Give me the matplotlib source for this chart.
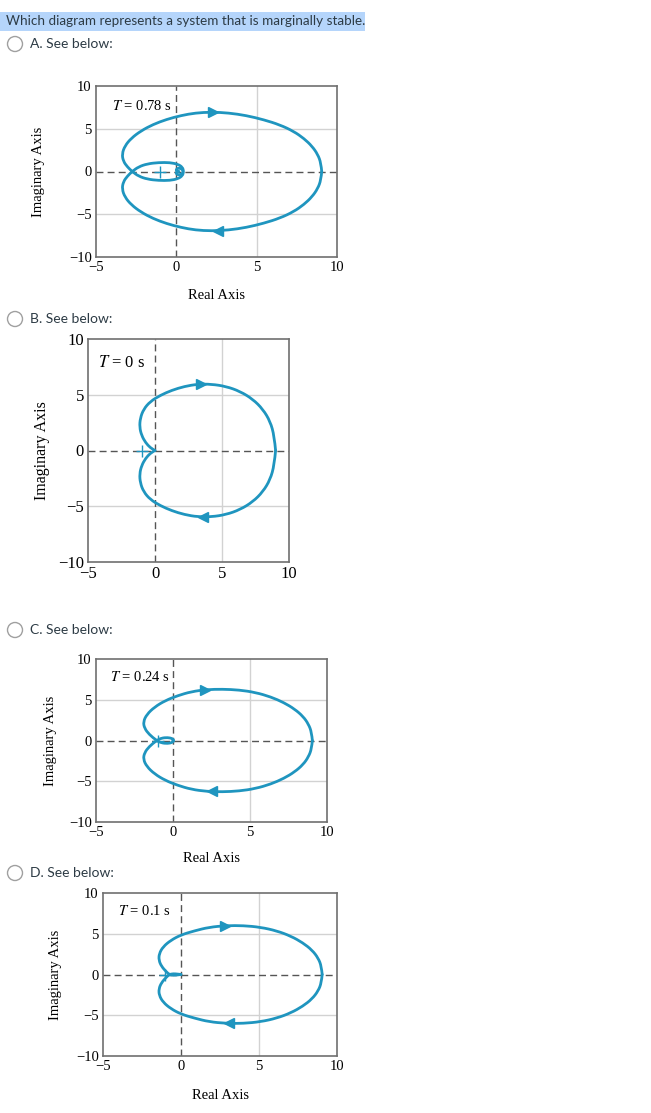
import numpy as np
import matplotlib.pyplot as plt
from matplotlib.patches import Rectangle, Ellipse, PathPatch
from matplotlib.path import Path

plt.rcParams['font.family'] = ['Liberation Serif', 'DejaVu Serif']
plt.rcParams['mathtext.fontset'] = 'stix'

question = "Which diagram represents a system that is marginally stable."
options = ["A. See below:", "B. See below:", "C. See below:", "D. See below:"]
delays = ["0.78", "0", "0.24", "0.1"]

# lower branch (omega > 0) of each Nyquist curve; upper branch is its mirror
a_re = [9.05, 9.0, 8.8, 8.45, 7.95, 7.3, 6.45, 5.45, 4.35, 3.25, 2.2, 1.2, 0.3, -0.6, -1.45, -2.2,
        -2.8, -3.2, -3.38, -3.3, -3.05, -2.75, -2.35, -1.8, -1.1, -0.4, 0.1, 0.38, 0.45, 0.35, 0.15, 0.0, 0.0, 0.15]
a_im = [0.0, -1.0, -2.0, -2.95, -3.85, -4.7, -5.45, -6.05, -6.55, -6.85, -6.95, -6.85, -6.55, -6.1, -5.5, -4.75,
        -3.9, -3.0, -2.05, -1.2, -0.55, 0.0, 0.55, 0.9, 1.05, 1.05, 0.85, 0.5, 0.05, -0.3, -0.4, -0.3, -0.05, 0.0]
b_re = [9.0, 8.9, 8.6, 8.05, 7.3, 6.35, 5.3, 4.2, 3.2, 2.2, 1.25, 0.4, -0.35, -0.85, -1.1, -1.15, -1.0, -0.7, -0.35, 0.0]
b_im = [0.0, -1.3, -2.6, -3.7, -4.6, -5.3, -5.75, -5.95, -5.95, -5.75, -5.4, -4.95, -4.4, -3.7, -2.9, -2.1, -1.35, -0.7, -0.25, 0.0]
c_re = [9.05, 9.0, 8.8, 8.45, 7.9, 7.2, 6.35, 5.35, 4.3, 3.2, 2.2, 1.2, 0.3, -0.5, -1.2, -1.7, -1.93, -1.85, -1.55,
        -1.07, -0.75, -0.35, -0.05, 0.05, 0.0]
c_im = [0.0, -1.0, -2.0, -2.95, -3.85, -4.65, -5.35, -5.9, -6.2, -6.3, -6.25, -6.0, -5.5, -4.9, -4.1, -3.2, -2.3, -1.5, -0.75,
        0.0, 0.3, 0.37, 0.25, 0.05, 0.0]
d_re = [9.05, 9.0, 8.8, 8.4, 7.8, 7.05, 6.15, 5.1, 4.0, 2.9, 1.8, 0.85, 0.0, -0.65, -1.15, -1.4, -1.42, -1.25, -0.95,
        -0.75, -0.5, -0.2, 0.0]
d_im = [0.0, -1.0, -2.0, -3.0, -3.9, -4.7, -5.35, -5.8, -6.0, -6.0, -5.8, -5.35, -4.86, -4.2, -3.4, -2.55, -1.75, -1.0, -0.35,
        0.0, 0.1, 0.05, 0.0]
curves = [(a_re, a_im), (b_re, b_im), (c_re, c_im), (d_re, d_im)]

# arrow heads: (x top, y top), (x bottom, y bottom)
arrows = [((2.3, 6.95), (2.6, -6.95)), ((3.45, 5.95), (3.6, -5.95)),
          ((2.06, 6.25), (2.5, -6.25)), ((2.8, 6.0), (3.1, -6.0))]

# layout in pixels (left, top, right, bottom)
boxes = [(96, 86, 337, 257), (88, 339, 289, 562), (96, 659, 327, 822), (103, 893, 337, 1056)]
option_y = [44, 319, 630, 873]
ylab_x = [-0.21, -0.19, -0.17, -0.175]
xlab_y = [-0.19, None, -0.184, -0.2]
label_pos = [(-4.0, 7.7), (-4.25, 7.85), (-4.1, 7.85), (-4.06, 7.8)]


def smooth_path(xs, ys):
    # quadratic bezier through the midpoints, the read points act as control points
    pts = np.column_stack([xs, ys])
    verts = [pts[0]]
    codes = [Path.MOVETO]
    for i in range(1, len(pts) - 1):
        verts += [pts[i], (pts[i] + pts[i + 1]) / 2]
        codes += [Path.CURVE3, Path.CURVE3]
    verts.append(pts[-1])
    codes.append(Path.LINETO)
    return Path(verts, codes)


W, H = 651, 1113
fig = plt.figure(figsize=(W / 100, H / 100), dpi=100)
blue = '#1f95bf'
txt = '#2d3b45'

fig.add_artist(Rectangle((0, 1 - 31 / H), 365 / W, 19 / H, transform=fig.transFigure,
                         facecolor='#b5d5fb', edgecolor='none'))
fig.text(6 / W, 1 - 21 / H, question, family='Lato', fontsize=9.7, color=txt, va='center')
for k, lab in enumerate(options):
    yy = option_y[k]
    fig.add_artist(Ellipse((15 / W, 1 - yy / H), 15 / W, 15 / H, transform=fig.transFigure,
                           facecolor='white', edgecolor='#a0a0a0', lw=1))
    fig.text(30 / W, 1 - yy / H, lab, family='Lato', fontsize=10, color=txt, va='center')

for k in range(4):
    l, t, r, b = boxes[k]
    ax = fig.add_axes([l / W, 1 - b / H, (r - l) / W, (b - t) / H])
    ax.set_xlim(-5, 10)
    ax.set_ylim(-10, 10)
    ax.set_xticks([-5, 0, 5, 10])
    ax.set_yticks([-10, -5, 0, 5, 10])
    fs = 12 if k == 1 else 10.5
    ax.tick_params(length=0, labelsize=fs, pad=3)
    for s in ax.spines.values():
        s.set_color('#707070')
        s.set_linewidth(1.2)
    ax.axvline(5, color='#d2d2d2', lw=1, zorder=0)
    ax.axhline(5, color='#d2d2d2', lw=1, zorder=0)
    ax.axhline(-5, color='#d2d2d2', lw=1, zorder=0)
    ax.axhline(0, color='#555555', lw=1, dashes=(5, 3), zorder=1)
    ax.axvline(0, color='#555555', lw=1, dashes=(5, 3), zorder=1)

    re = np.array(curves[k][0])
    im = np.array(curves[k][1])
    for sign in (1, -1):
        ax.add_patch(PathPatch(smooth_path(re, sign * im), fill=False, edgecolor=blue, lw=2,
                               zorder=3, capstyle='round', joinstyle='round'))
    ax.plot(-1, 0, marker='+', ms=9, mew=1, color=blue, zorder=3)
    (tx, ty), (bx, by) = arrows[k]
    ax.plot(tx, ty, marker='>', ms=7, color=blue, zorder=4)
    ax.plot(bx, by, marker='<', ms=7, color=blue, zorder=4)

    ax.text(label_pos[k][0], label_pos[k][1], '$T$ = ' + delays[k] + ' s', fontsize=fs, va='center')
    ax.set_ylabel('Imaginary Axis', fontsize=11.5 if k == 1 else 10.5)
    ax.yaxis.set_label_coords(ylab_x[k], 0.5)
    if xlab_y[k] is not None:
        ax.set_xlabel('Real Axis', fontsize=10.5)
        ax.xaxis.set_label_coords(0.5, xlab_y[k])

fig.savefig('out.png', dpi=100)
